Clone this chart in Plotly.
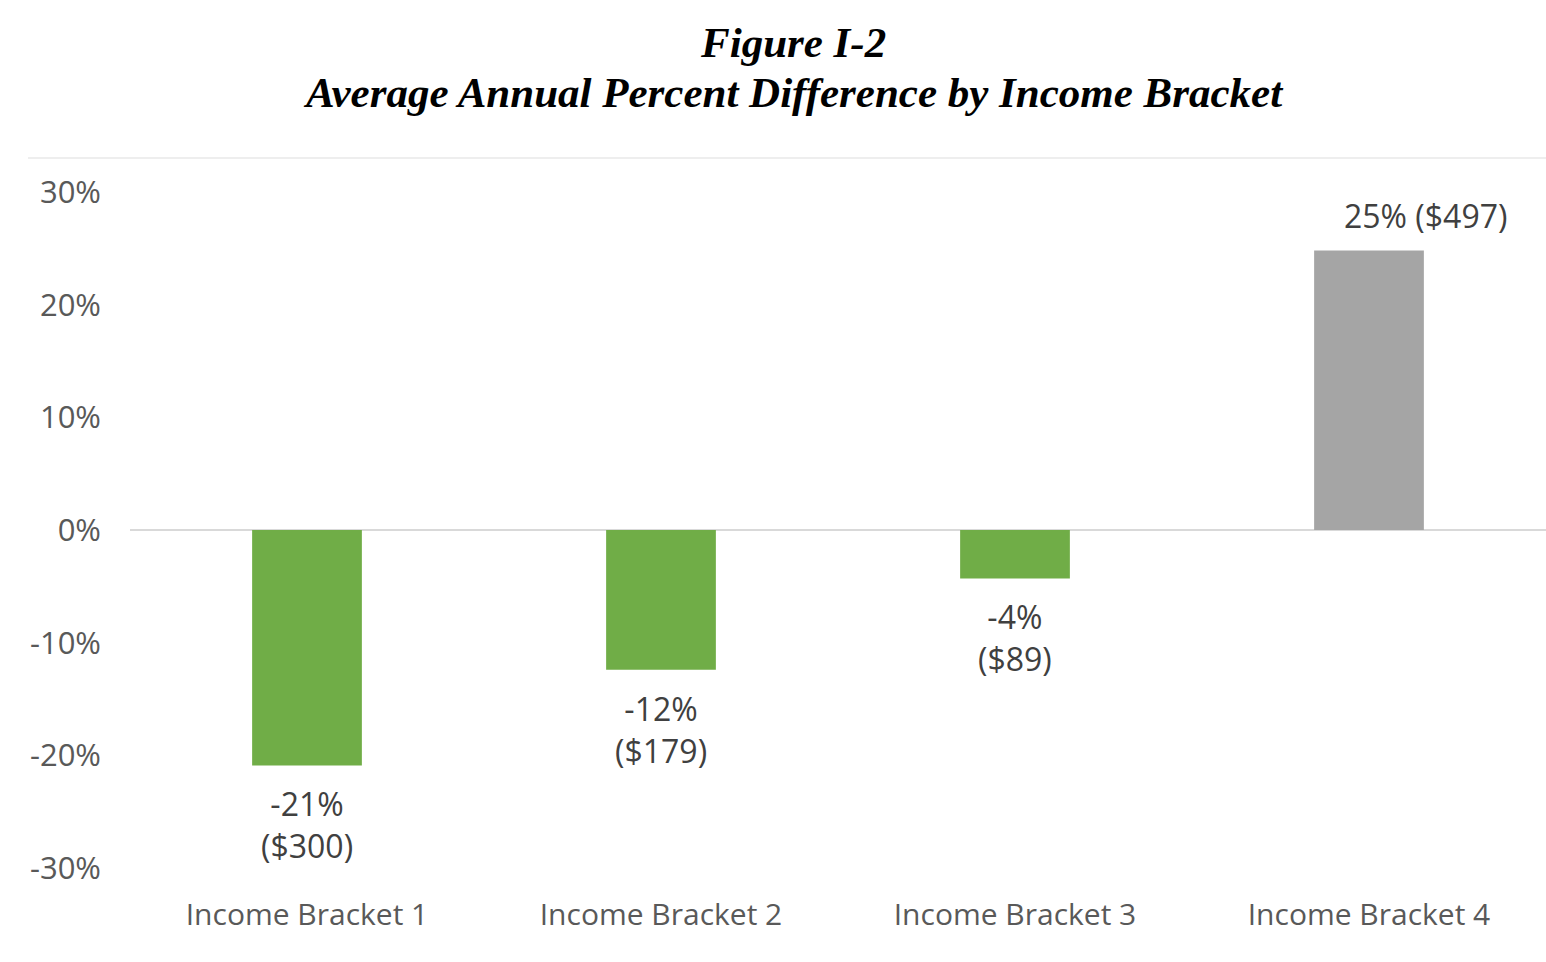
import plotly.graph_objects as go

categories = ["Income Bracket 1", "Income Bracket 2", "Income Bracket 3", "Income Bracket 4"]
values = [-20.9, -12.4, -4.3, 24.8]
label_pct = ["-21%", "-12%", "-4%", "25%"]
label_usd = ["($300)", "($179)", "($89)", "($497)"]
colors = ["#70AD47", "#70AD47", "#70AD47", "#A5A5A5"]
y_ticks = [-30, -20, -10, 0, 10, 20, 30]
y_tick_text = ["-30%", "-20%", "-10%", "0%", "10%", "20%", "30%"]

label_font = dict(family="Open Sans", size=32, color="#404040")

W, H = 1546, 962
ML, MR, MT, MB = 130, 0, 192, 94

fig = go.Figure()
fig.add_trace(go.Bar(
    x=categories, y=values, marker=dict(color=colors, line=dict(width=0)),
    hoverinfo="skip", showlegend=False,
))

for cat, v, p, u in zip(categories, values, label_pct, label_usd):
    if v < 0:
        fig.add_annotation(x=cat, y=v, xref="x", yref="y", text=p + "<br>" + u,
                           showarrow=False, yanchor="top", yshift=-15,
                           font=label_font, align="center")
    else:
        fig.add_annotation(x=cat, y=v, xref="x", yref="y", text=p + " " + u,
                           showarrow=False, yanchor="bottom", yshift=12, xshift=56,
                           font=label_font, align="center")

fig.update_layout(
    width=W, height=H,
    margin=dict(l=ML, r=MR, t=MT, b=MB),
    paper_bgcolor="white", plot_bgcolor="white",
    bargap=0.69,
    xaxis=dict(showgrid=False, showline=False, ticks="", ticklabelstandoff=26,
               tickfont=dict(family="Open Sans", size=30, color="#595959")),
    yaxis=dict(range=[-30, 30], tickvals=y_ticks, ticktext=y_tick_text,
               showgrid=False, showline=False, zeroline=True, zerolinecolor="#D9D9D9",
               zerolinewidth=2, ticks="", ticklabelstandoff=28,
               tickfont=dict(family="Open Sans", size=31, color="#595959")),
)

plot_h = H - MT - MB
plot_w = W - ML - MR
def py(ypix):
    return (H - MB - ypix) / plot_h
def px(xpix):
    return (xpix - ML) / plot_w

title_font = dict(family="Liberation Serif", size=43, color="#000000")
fig.add_annotation(x=px(793), y=py(42), xref="paper", yref="paper", xanchor="center", yanchor="middle",
                   text="<b><i>Figure I-2</i></b>", showarrow=False, font=title_font)
fig.add_annotation(x=px(793), y=py(93), xref="paper", yref="paper", xanchor="center", yanchor="middle",
                   text="<b><i>Average Annual Percent Difference by Income Bracket</i></b>",
                   showarrow=False, font=title_font)

fig.add_shape(type="line", xref="paper", yref="paper", x0=px(28), x1=px(1546), y0=py(158), y1=py(158),
              line=dict(color="#EEEEEE", width=2))

fig.write_html("out.html")
